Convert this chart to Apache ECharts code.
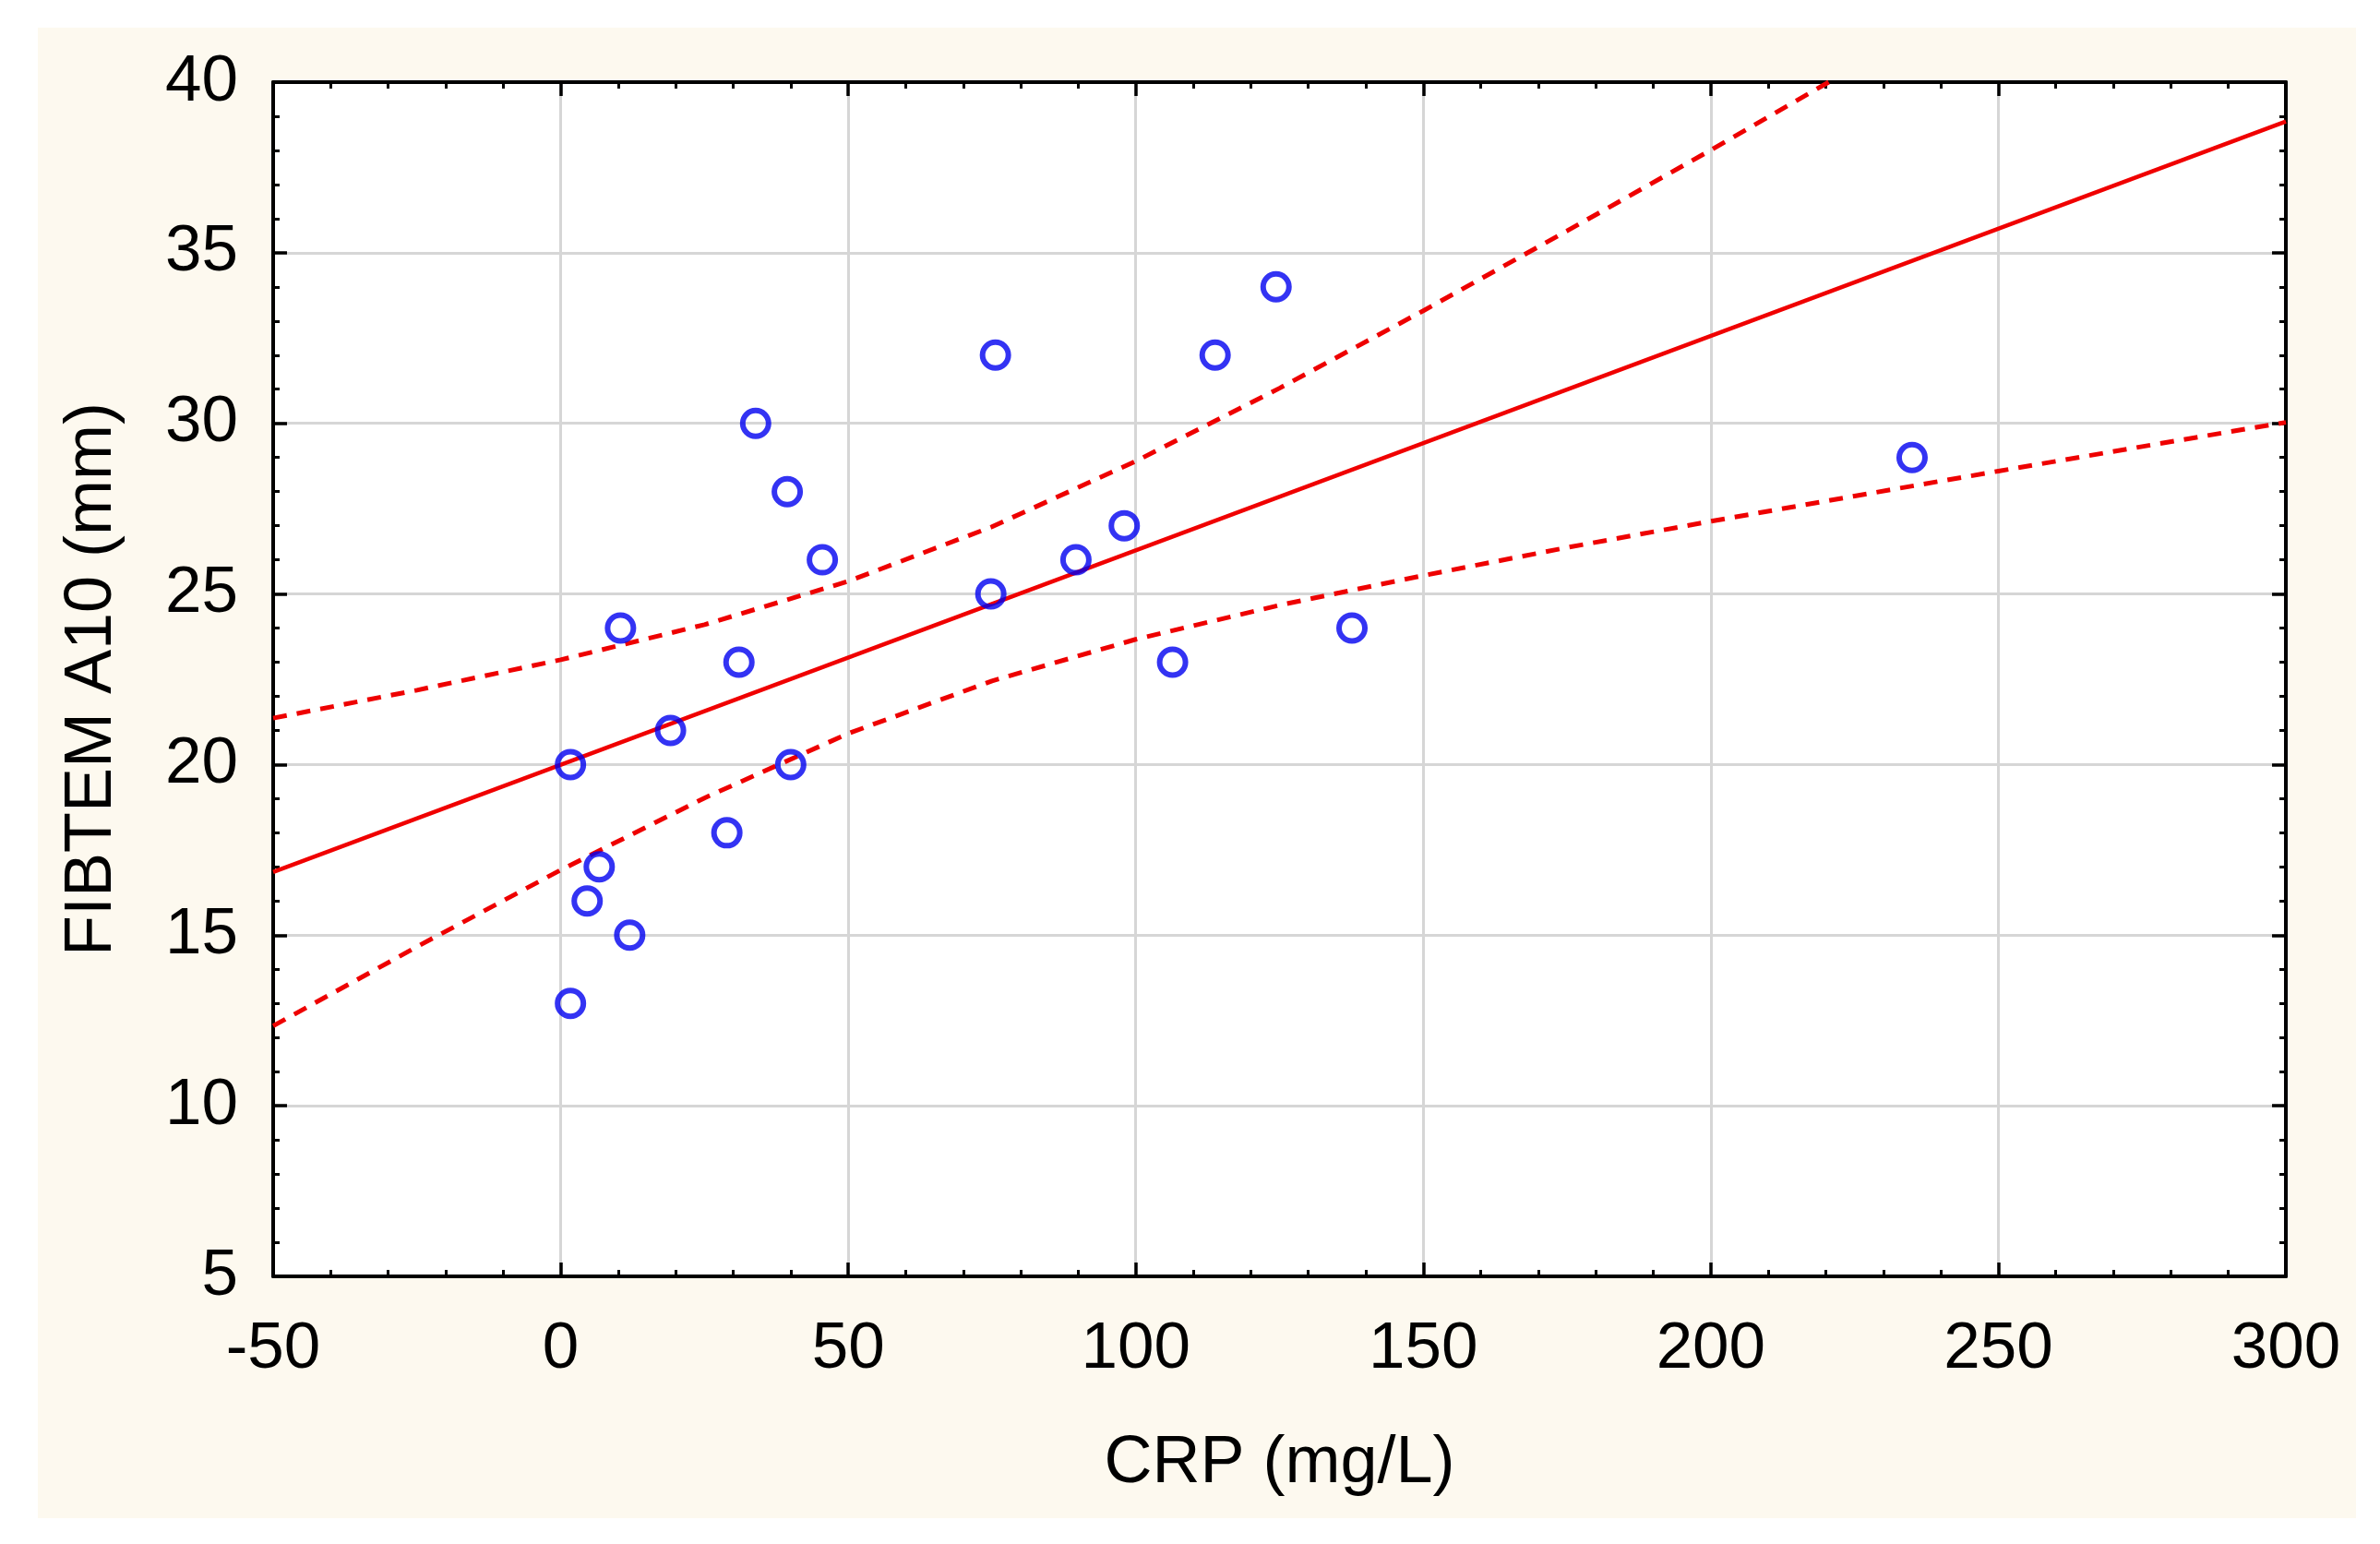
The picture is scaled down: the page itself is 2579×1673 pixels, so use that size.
<!DOCTYPE html>
<html>
<head>
<meta charset="utf-8">
<script src="https://cdn.jsdelivr.net/npm/echarts@6/dist/echarts.min.js"></script>
<style>
  html, body { margin: 0; padding: 0; background: #ffffff; }
  #bg { position: absolute; left: 41px; top: 30px; width: 2512px; height: 1615px; background: #fdf9ef; }
  #chart { position: absolute; left: 0; top: 0; width: 2579px; height: 1673px; }
</style>
</head>
<body>
<div id="bg"></div>
<div id="chart"></div>
<script>
// ---- Data ----
const crpValues   = [1.7, 1.7, 4.6, 6.7, 12.0, 10.4, 19.1, 28.9, 31.0, 33.9, 39.4, 40.0, 45.5, 74.8, 75.6, 89.6, 98.0, 106.4, 113.8, 124.4, 137.6, 235.0];
const fibtemValues = [20, 13, 16, 17, 15, 24, 21, 18, 23, 30, 28, 20, 26, 25, 32, 26, 27, 23, 32, 34, 24, 29];

// Regression line (end points)
const fitX = [-50, 300];
const fitY = [16.85, 38.85];

// Upper 95% confidence band
const upperX = [-50, -25, 0, 25, 50, 75, 100, 125, 150, 175, 200, 220.5];
const upperY = [21.36, 22.18, 23.07, 24.10, 25.37, 26.97, 28.89, 31.03, 33.30, 35.64, 38.01, 40.0];

// Lower 95% confidence band
const lowerX = [-50, -25, 0, 25, 50, 75, 100, 125, 150, 175, 200, 225, 250, 275, 300];
const lowerY = [12.34, 14.66, 16.91, 19.02, 20.91, 22.45, 23.67, 24.67, 25.54, 26.36, 27.13, 27.87, 28.60, 29.32, 30.03];

// Axis settings
const xMin = -50, xMax = 300, xStep = 50;
const yMin = 5, yMax = 40, yStep = 5;
const xTitle = 'CRP (mg/L)';
const yTitle = 'FIBTEM A10 (mm)';

// ---- Chart ----
const FONT = '"Liberation Sans", Arial, sans-serif';
const pairs = (xs, ys) => xs.map((x, i) => [x, ys[i]]);

const axisLine = { show: true, onZero: false, lineStyle: { color: '#000', width: 4 } };
const majorTick = { show: true, inside: true, length: 15, lineStyle: { color: '#000', width: 3.5 } };
const minorTick = { show: true, splitNumber: 5, length: 7, lineStyle: { color: '#000', width: 3 } };
const grid = { left: 296, right: 102, top: 89, bottom: 290, show: true, backgroundColor: '#ffffff', borderWidth: 0 };

const chart = echarts.init(document.getElementById('chart'), null, { renderer: 'canvas' });
chart.setOption({
  backgroundColor: 'transparent',
  animation: false,
  grid: grid,
  xAxis: [
    {
      type: 'value', min: xMin, max: xMax, interval: xStep, position: 'bottom',
      axisLine: axisLine, axisTick: majorTick, minorTick: minorTick,
      splitLine: { show: true, lineStyle: { color: '#d6d6d6', width: 3 } },
      minorSplitLine: { show: false },
      axisLabel: { show: true, fontSize: 71, color: '#000', fontFamily: FONT, margin: 44, showMinLabel: true, showMaxLabel: true },
      name: xTitle, nameLocation: 'middle', nameGap: 167,
      nameTextStyle: { fontSize: 72, color: '#000', fontFamily: FONT }
    },
    {
      type: 'value', min: xMin, max: xMax, interval: xStep, position: 'top',
      axisLine: axisLine, axisTick: majorTick, minorTick: minorTick,
      splitLine: { show: false }, axisLabel: { show: false }
    }
  ],
  yAxis: [
    {
      type: 'value', min: yMin, max: yMax, interval: yStep, position: 'left',
      axisLine: axisLine, axisTick: majorTick, minorTick: minorTick,
      splitLine: { show: true, lineStyle: { color: '#d6d6d6', width: 3 } },
      minorSplitLine: { show: false },
      axisLabel: { show: true, fontSize: 71, color: '#000', fontFamily: FONT, margin: 38, showMinLabel: true, showMaxLabel: true },
      name: yTitle, nameLocation: 'middle', nameGap: 160, nameRotate: 90,
      nameTextStyle: { fontSize: 72, color: '#000', fontFamily: FONT }
    },
    {
      type: 'value', min: yMin, max: yMax, interval: yStep, position: 'right',
      axisLine: axisLine, axisTick: majorTick, minorTick: minorTick,
      splitLine: { show: false }, axisLabel: { show: false }
    }
  ],
  series: [
    {
      type: 'line', name: 'upper', data: pairs(upperX, upperY), showSymbol: false, symbol: 'none',
      lineStyle: { color: '#ee0000', width: 5, type: [15, 11] }, clip: true, z: 3
    },
    {
      type: 'line', name: 'lower', data: pairs(lowerX, lowerY), showSymbol: false, symbol: 'none',
      lineStyle: { color: '#ee0000', width: 5, type: [15, 11] }, clip: true, z: 3
    },
    {
      type: 'line', name: 'fit', data: pairs(fitX, fitY), showSymbol: false, symbol: 'none',
      lineStyle: { color: '#f00000', width: 4.5 }, clip: true, z: 4
    },
    {
      type: 'scatter', name: 'points', data: pairs(crpValues, fibtemValues),
      symbol: 'circle', symbolSize: 28,
      itemStyle: { color: 'rgba(0,0,0,0)', borderColor: '#0000f0', borderWidth: 6 },
      z: 5
    }
  ]
});
</script>
</body>
</html>
